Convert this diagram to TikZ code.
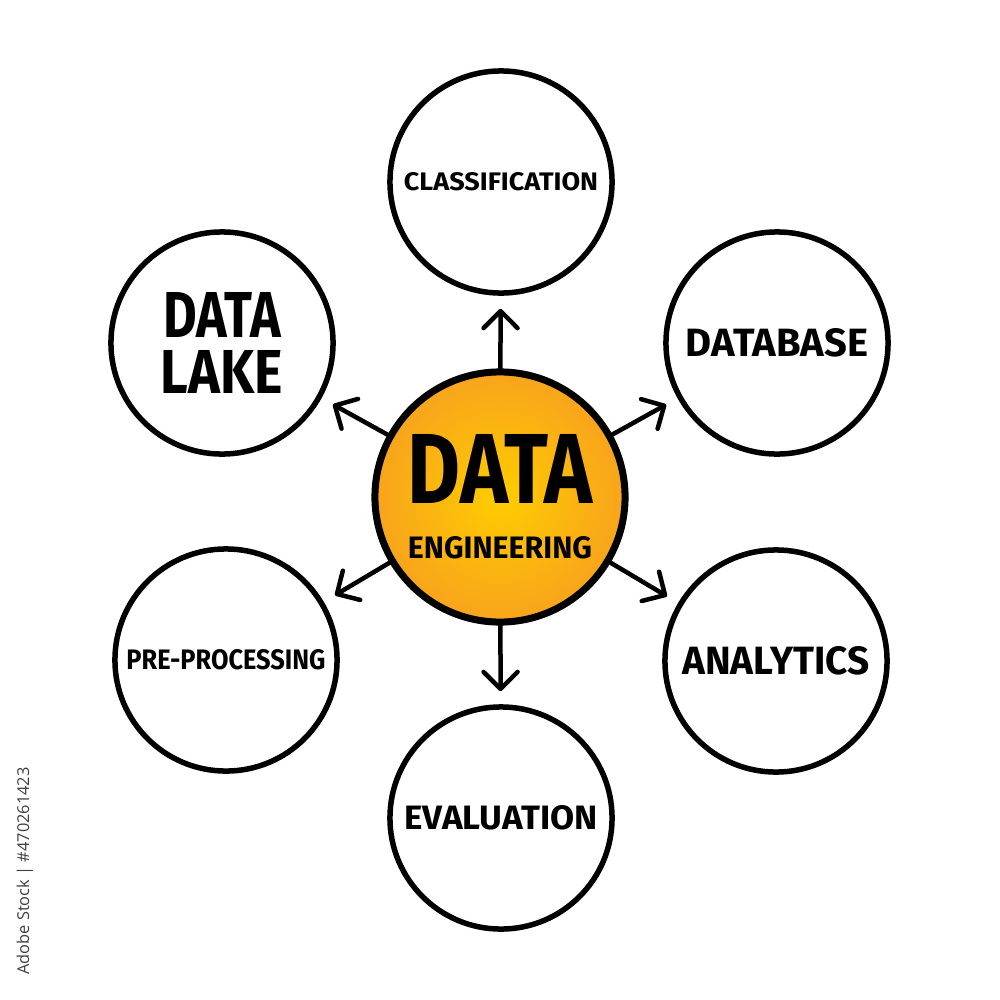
\documentclass[tikz,border=0pt]{standalone}
\usepackage{fontspec}
\usepackage{graphicx}
\setmainfont{Fira Sans}
\newfontfamily\wmfont{Open Sans}
\usetikzlibrary{arrows.meta}
\definecolor{suninner}{HTML}{FFCC00}
\definecolor{sunouter}{HTML}{F8A41C}
\definecolor{wmgray}{HTML}{404040}
\tikzset{
  outer/.style={circle, draw=black, line width=0.055cm, minimum size=2.22cm, inner sep=0pt, fill=white},
  central/.style={circle, draw=black, line width=0.07cm, minimum size=2.5cm, inner sep=0pt, shading=radial, inner color=suninner, outer color=sunouter},
  arr/.style={line width=0.045cm, line cap=round, -{Straight Barb[length=1.7mm,width=3.4mm,round]}, shorten >=0.13cm},
}
\begin{document}
\begin{tikzpicture}[x=0.01cm,y=-0.01cm]
\useasboundingbox (0,0) rectangle (1000,1000);
\node[central] (c) at (500,497) {\vbox{\hbox to 1.9cm{\hss\resizebox{1.84cm}{0.69cm}{\bfseries DATA}\hss}\kern0.13cm\hbox to 1.9cm{\hss\resizebox{1.84cm}{0.22cm}{\bfseries ENGINEERING}\hss}}};
\node[outer] (cl) at (501,182) {\resizebox{1.94cm}{0.18cm}{\bfseries CLASSIFICATION}};
\node[outer] (db) at (777,343) {\resizebox{1.82cm}{0.28cm}{\bfseries DATABASE}};
\node[outer] (dl) at (222,343) {\vbox{\hbox to 1.3cm{\hss\resizebox{1.17cm}{0.45cm}{\bfseries DATA}\hss}\kern0.1cm\hbox to 1.3cm{\hss\resizebox{1.22cm}{0.43cm}{\bfseries LAKE}\hss}}};
\node[outer] (pp) at (226,660) {\resizebox{1.99cm}{0.20cm}{\bfseries PRE-PROCESSING}};
\node[outer] (an) at (776,661) {\resizebox{1.87cm}{0.28cm}{\bfseries ANALYTICS}};
\node[outer] (ev) at (501,818) {\resizebox{1.93cm}{0.24cm}{\bfseries EVALUATION}};
\draw[arr] (c) -- (cl);
\draw[arr] (c) -- (db);
\draw[arr] (c) -- (dl);
\draw[arr] (c) -- (pp);
\draw[arr] (c) -- (an);
\draw[arr] (c) -- (ev);
\node[rotate=90, text=wmgray, inner sep=0pt] (wm) at (25,871) {\resizebox{2.07cm}{!}{\wmfont Adobe Stock | \#470261423}};
\end{tikzpicture}
\end{document}
